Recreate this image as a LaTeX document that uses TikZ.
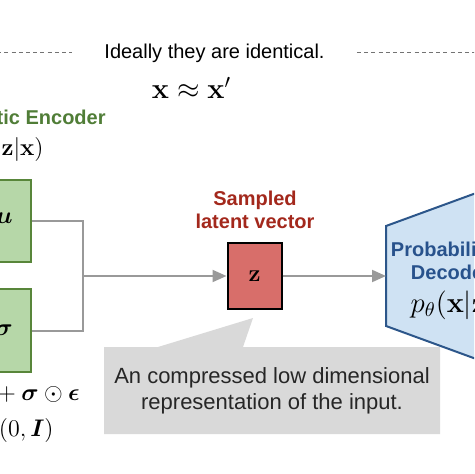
\documentclass[tikz,border=0pt]{standalone}
\usepackage{amsmath,amssymb,bm}
\usepackage[no-math]{fontspec}
\setmainfont{Liberation Sans}
\usetikzlibrary{arrows.meta,positioning}

\newcommand{\varW}{474}
\newcommand{\varJoin}{83}
\newcommand{\varMid}{276}
\definecolor{myencgreen}{RGB}{80,125,55}
\definecolor{mygreenfill}{RGB}{182,215,168}
\definecolor{mygreenline}{RGB}{88,134,58}
\definecolor{mylatred}{RGB}{163,40,28}
\definecolor{myzfill}{RGB}{216,110,106}
\definecolor{mydecfill}{RGB}{207,226,243}
\definecolor{mydecline}{RGB}{44,86,138}
\definecolor{mydectext}{RGB}{40,82,140}
\definecolor{mynotegray}{RGB}{217,217,217}
\definecolor{mywire}{RGB}{153,153,153}

\begin{document}
\begin{tikzpicture}[x=0.5pt, y=-0.5pt,
	gaussbox/.style={draw=mygreenline, line width=1pt, fill=mygreenfill, minimum width=27pt, minimum height=41pt, inner sep=0pt, font=\fontsize{13}{15}\selectfont},
	zbox/.style={draw=black, line width=1pt, fill=myzfill, minimum width=27pt, minimum height=33pt, inner sep=0pt, font=\fontsize{13}{15}\selectfont},
	wire/.style={draw=mywire, line width=1pt},
	wirearrow/.style={wire, -{Triangle[length=7pt, width=6pt]}},
	bigmath/.style={inner sep=0pt, font=\fontsize{13}{15}\selectfont},
	title/.style={inner sep=0pt, font=\fontsize{10}{11.5}\selectfont\bfseries, align=center},
	dashline/.style={dash pattern=on 2pt off 1.6pt, gray!90!black, line width=0.5pt}]

	% frame
	\useasboundingbox (0,0) rectangle (\varW,\varW);
	\clip (0,0) rectangle (\varW,\varW);

	% top remark
	\node (ideal) [inner sep=0pt, font=\fontsize{10}{12}\selectfont] at (214.5,53) {Ideally they are identical.};
	\node (approx) [bigmath, font=\fontsize{14}{16}\selectfont] at (191.5,88) {$\mathbf{x} \approx \mathbf{x}'$};
	\coordinate (dashl) at (-10,53);
	\coordinate (dashr) at (490,53);
	\draw [dashline] (dashl) -- ([xshift=-16pt]ideal.west);
	\draw [dashline] ([xshift=16pt]ideal.east) -- (dashr);

	% encoder
	\node (enctitle) [title, color=myencgreen, anchor=east] at (106,117) {Probabilistic Encoder};
	\node (encq) [bigmath, anchor=east] at (44,150) {$q_\phi(\mathbf{z}|\mathbf{x})$};
	\node (mu) [gaussbox] at (4,221) {$\bm{\mu}$};
	\node (sigma) [gaussbox] at (4,330.5) {$\bm{\sigma}$};
	\node (zeq) [bigmath, anchor=east] at (80,396) {$\mathbf{z} = \bm{\mu} + \bm{\sigma} \odot \bm{\epsilon}$};
	\node (epseq) [bigmath, anchor=east] at (54,430) {$\bm{\epsilon} \sim \mathcal{N}(0, \bm{I})$};

	% latent
	\node (lattitle) [title, color=mylatred] at (255,210) {Sampled\\latent vector};
	\node (z) [zbox] at (254.5,\varMid) {$\mathbf{z}$};

	% decoder
	\draw [draw=mydecline, line width=1pt, fill=mydecfill] (386,226) -- (520,177) -- (520,375) -- (386,326) -- cycle;
	\coordinate (decin) at (386,\varMid);
	\node (dectitle) [title, color=mydectext] at (451,261) {Probabilistic\\Decoder};
	\node (decp) [bigmath, font=\fontsize{14}{16}\selectfont] at (454,305) {$p_\theta(\mathbf{x}|\mathbf{z})$};

	% wires
	\coordinate (join) at (\varJoin,\varMid);
	\draw [wire] (mu.east) -- (mu.east -| join) -- (sigma.east -| join) -- (sigma.east);
	\draw [wirearrow] (join) -- (z.west);
	\draw [wirearrow] (z.east) -- (decin);

	% callout
	\fill [mynotegray] (104,347) -- (158,347) -- (253,318) -- (243,347) -- (440,347) -- (440,434) -- (104,434) -- cycle;
	\node (note) [inner sep=0pt, align=center, font=\fontsize{11}{13}\selectfont, text=black!85] at (272,391) {An compressed low dimensional\\representation of the input.};

\end{tikzpicture}
\end{document}
